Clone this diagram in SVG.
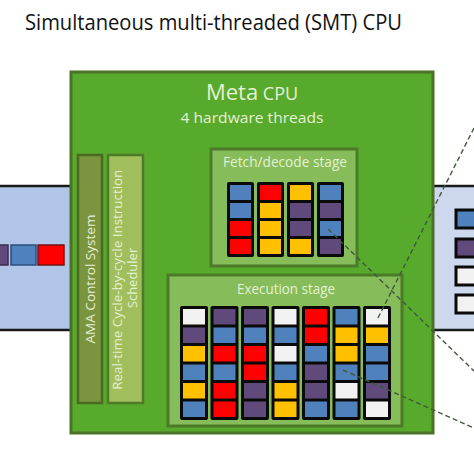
<svg xmlns="http://www.w3.org/2000/svg" width="474" height="474" viewBox="0 0 474 474">
<defs>
<style>
.t{font-family:"Open Sans","Liberation Sans",sans-serif;fill:#e4f1d4}
.stage{fill:#87bc5a;stroke:#4d7a28;stroke-width:3}
.col{fill:#0a0a0a}
.B{fill:#4f81bd}.P{fill:#604a7b}.R{fill:#ff0000}.Y{fill:#ffc000}.W{fill:#f2f2f2}
.dash{fill:none;stroke:#3e5a3a;stroke-width:1.4;stroke-dasharray:5 3}
</style>
</defs>
<rect width="474" height="474" fill="#ffffff"/>
<text x="25" y="30" font-family="Open Sans, Liberation Sans, sans-serif" font-size="22" fill="#111" textLength="377" lengthAdjust="spacingAndGlyphs">Simultaneous multi-threaded (SMT) CPU</text>

<g id="left-queue">
<rect x="-5" y="186" width="78" height="144" fill="#b1c5e8" stroke="#1a1a1a" stroke-width="2.5"/>
<rect x="-20" y="245" width="28" height="20" class="P" stroke="#3b2c52" stroke-width="1.5"/>
<rect x="11" y="245" width="25" height="20" class="B" stroke="#2d4d78" stroke-width="1.5"/>
<rect x="38" y="245" width="26" height="20" class="R" stroke="#7a1010" stroke-width="1.5"/>
</g>

<g id="right-queue">
<rect x="432" y="186" width="50" height="144" fill="#cdd8ee" stroke="#1a1a1a" stroke-width="2.5"/>
<rect x="456" y="210" width="30" height="18" class="B" stroke="#0a0a0a" stroke-width="3"/>
<rect x="456" y="239" width="30" height="18" class="P" stroke="#0a0a0a" stroke-width="3"/>
<rect x="456" y="267" width="30" height="18" class="W" stroke="#0a0a0a" stroke-width="3"/>
<rect x="456" y="295" width="30" height="18" class="W" stroke="#0a0a0a" stroke-width="3"/>
</g>

<g id="meta-cpu">
<rect x="71" y="72" width="362" height="361" fill="#58aa2c" stroke="#4b7327" stroke-width="3"/>
<text x="252" y="100" text-anchor="middle" class="t"><tspan font-size="22">Meta</tspan><tspan font-size="18"> CPU</tspan></text>
<text x="252" y="123" text-anchor="middle" class="t" font-size="14.5" textLength="143" lengthAdjust="spacingAndGlyphs">4 hardware threads</text>
</g>

<g id="ama">
<rect x="78" y="155" width="24" height="248" fill="#7b9440" stroke="#4a6a22" stroke-width="2.5"/>
<text transform="translate(90,279) rotate(-90)" x="0" y="4.5" text-anchor="middle" class="t" font-size="13" textLength="129" lengthAdjust="spacingAndGlyphs">AMA Control System</text>
</g>

<g id="scheduler">
<rect x="108" y="155" width="35" height="248" fill="#a0bf5c" stroke="#4f7a28" stroke-width="2.5"/>
<text transform="translate(125,278) rotate(-90)" text-anchor="middle" class="t" font-size="13">
<tspan x="0" y="-3" textLength="220" lengthAdjust="spacingAndGlyphs">Real-time Cycle-by-cycle Instruction</tspan>
<tspan x="0" y="12">Scheduler</tspan>
</text>
</g>

<g id="fetch">
<rect x="211" y="149" width="146" height="117" class="stage"/>
<text x="285" y="167" text-anchor="middle" class="t" font-size="14" textLength="124" lengthAdjust="spacingAndGlyphs">Fetch/decode stage</text>
<g>
<rect x="227" y="182" width="27" height="75" rx="2" class="col"/>
<rect x="230" y="185" width="21" height="15" class="B"/><rect x="230" y="203" width="21" height="15" class="B"/><rect x="230" y="221" width="21" height="15" class="R"/><rect x="230" y="239" width="21" height="15" class="R"/>
<rect x="257" y="182" width="27" height="75" rx="2" class="col"/>
<rect x="260" y="185" width="21" height="15" class="R"/><rect x="260" y="203" width="21" height="15" class="Y"/><rect x="260" y="221" width="21" height="15" class="Y"/><rect x="260" y="239" width="21" height="15" class="Y"/>
<rect x="287" y="182" width="27" height="75" rx="2" class="col"/>
<rect x="290" y="185" width="21" height="15" class="Y"/><rect x="290" y="203" width="21" height="15" class="P"/><rect x="290" y="221" width="21" height="15" class="P"/><rect x="290" y="239" width="21" height="15" class="Y"/>
<rect x="317" y="182" width="27" height="75" rx="2" class="col"/>
<rect x="320" y="185" width="21" height="15" class="B"/><rect x="320" y="203" width="21" height="15" class="P"/><rect x="320" y="221" width="21" height="15" class="B"/><rect x="320" y="239" width="21" height="15" class="P"/>
</g>
</g>

<g id="execution">
<rect x="168" y="275" width="234" height="151" class="stage"/>
<text x="286" y="294" text-anchor="middle" class="t" font-size="14" textLength="98" lengthAdjust="spacingAndGlyphs">Execution stage</text>
<g>
<rect x="180" y="306" width="28" height="114" rx="2" class="col"/>
<rect x="183" y="309" width="22" height="15.5" class="W"/><rect x="183" y="327.5" width="22" height="15.5" class="P"/><rect x="183" y="346" width="22" height="15.5" class="Y"/><rect x="183" y="364.5" width="22" height="15.5" class="B"/><rect x="183" y="383" width="22" height="15.5" class="Y"/><rect x="183" y="401.5" width="22" height="15.5" class="B"/>
<rect x="210.5" y="306" width="28" height="114" rx="2" class="col"/>
<rect x="213.5" y="309" width="22" height="15.5" class="P"/><rect x="213.5" y="327.5" width="22" height="15.5" class="B"/><rect x="213.5" y="346" width="22" height="15.5" class="R"/><rect x="213.5" y="364.5" width="22" height="15.5" class="B"/><rect x="213.5" y="383" width="22" height="15.5" class="R"/><rect x="213.5" y="401.5" width="22" height="15.5" class="R"/>
<rect x="241" y="306" width="28" height="114" rx="2" class="col"/>
<rect x="244" y="309" width="22" height="15.5" class="P"/><rect x="244" y="327.5" width="22" height="15.5" class="B"/><rect x="244" y="346" width="22" height="15.5" class="R"/><rect x="244" y="364.5" width="22" height="15.5" class="R"/><rect x="244" y="383" width="22" height="15.5" class="P"/><rect x="244" y="401.5" width="22" height="15.5" class="P"/>
<rect x="271.5" y="306" width="28" height="114" rx="2" class="col"/>
<rect x="274.5" y="309" width="22" height="15.5" class="W"/><rect x="274.5" y="327.5" width="22" height="15.5" class="B"/><rect x="274.5" y="346" width="22" height="15.5" class="W"/><rect x="274.5" y="364.5" width="22" height="15.5" class="B"/><rect x="274.5" y="383" width="22" height="15.5" class="Y"/><rect x="274.5" y="401.5" width="22" height="15.5" class="Y"/>
<rect x="302" y="306" width="28" height="114" rx="2" class="col"/>
<rect x="305" y="309" width="22" height="15.5" class="R"/><rect x="305" y="327.5" width="22" height="15.5" class="R"/><rect x="305" y="346" width="22" height="15.5" class="B"/><rect x="305" y="364.5" width="22" height="15.5" class="P"/><rect x="305" y="383" width="22" height="15.5" class="P"/><rect x="305" y="401.5" width="22" height="15.5" class="B"/>
<rect x="332.5" y="306" width="28" height="114" rx="2" class="col"/>
<rect x="335.5" y="309" width="22" height="15.5" class="B"/><rect x="335.5" y="327.5" width="22" height="15.5" class="Y"/><rect x="335.5" y="346" width="22" height="15.5" class="Y"/><rect x="335.5" y="364.5" width="22" height="15.5" class="B"/><rect x="335.5" y="383" width="22" height="15.5" class="W"/><rect x="335.5" y="401.5" width="22" height="15.5" class="B"/>
<rect x="363" y="306" width="28" height="114" rx="2" class="col"/>
<rect x="366" y="309" width="22" height="15.5" class="W"/><rect x="366" y="327.5" width="22" height="15.5" class="Y"/><rect x="366" y="346" width="22" height="15.5" class="B"/><rect x="366" y="364.5" width="22" height="15.5" class="B"/><rect x="366" y="383" width="22" height="15.5" class="P"/><rect x="366" y="401.5" width="22" height="15.5" class="W"/>
</g>
</g>

<g id="connectors">
<line x1="328" y1="229" x2="474" y2="371" class="dash"/>
<line x1="378" y1="318" x2="474" y2="128" class="dash"/>
<line x1="343" y1="370" x2="474" y2="428" class="dash"/>
</g>
</svg>
